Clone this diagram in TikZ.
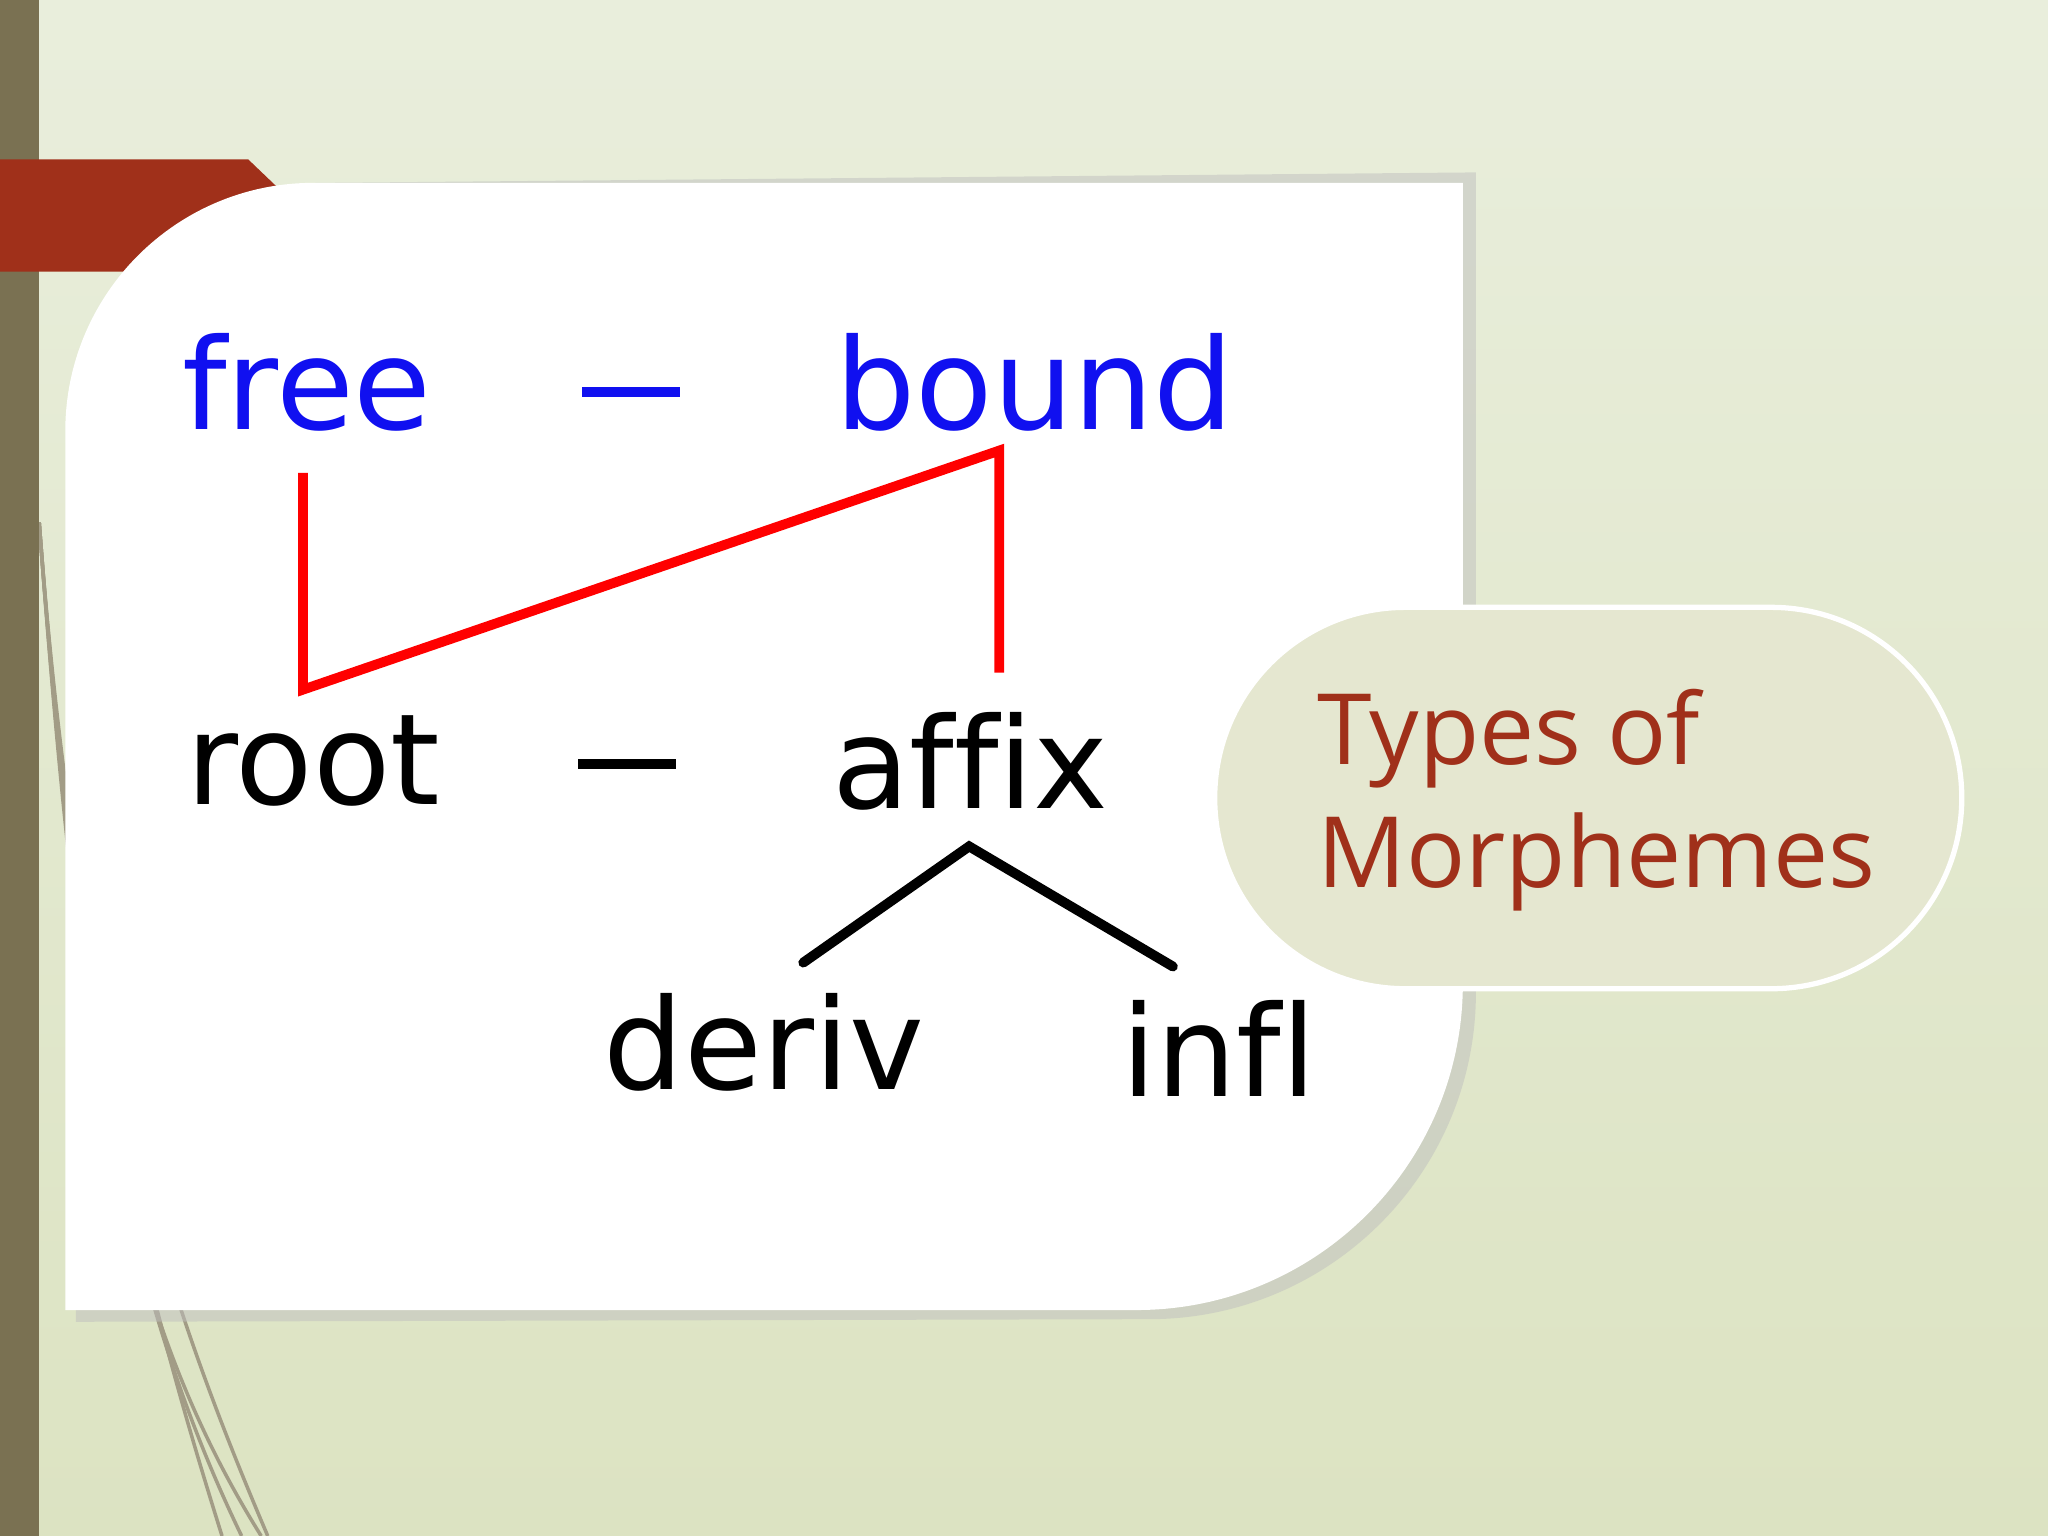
\documentclass[tikz,border=0pt]{standalone}
\usepackage{fontspec}
\setmainfont{DejaVu Sans}[Ligatures=NoCommon]
\newfontfamily\titlefont{Open Sans}
\definecolor{bgA}{HTML}{E9EEDC}
\definecolor{bgB}{HTML}{DCE3C2}
\definecolor{olive}{HTML}{7A7152}
\definecolor{rust}{HTML}{A0301A}
\definecolor{pill}{HTML}{E5E7D0}
\definecolor{wblue}{HTML}{1010F0}
\tikzset{
  wordb/.style={font=\fontsize{36}{44}\selectfont, text=wblue, inner sep=0pt},
  wordk/.style={font=\fontsize{36}{44}\selectfont, text=black, inner sep=0pt},
  dashb/.style={fill=wblue, minimum width=0.98cm, minimum height=0.1cm, inner sep=0pt},
  dashk/.style={fill=black, minimum width=0.98cm, minimum height=0.1cm, inner sep=0pt},
  redline/.style={draw=red, line width=2.8pt},
  blkline/.style={draw=black, line width=2.8pt, line cap=round},
}
\begin{document}
\begin{tikzpicture}[x=0.01306cm,y=-0.01306cm]
\useasboundingbox (0,0) rectangle (1568,1176);
\shade[top color=bgA, bottom color=bgB] (0,0) rectangle (1568,1176);
% grass lines
\foreach \a/\b in {90/200,100/185,115/170,130/205}
  \draw[olive!70, line width=1pt] (30,400) .. controls (60,800) and (\a,1000) .. (\b,1176);
\fill[olive] (0,0) rectangle (30,1176);
\fill[rust] (0,122) -- (190,122) -- (235,165) -- (200,208) -- (0,208) -- cycle;
% card shadow
\fill[black!25, opacity=0.5] (58,1012) -- (58,330) arc[start angle=180,end angle=270,radius=190] -- (1130,132) -- (1130,760) arc[start angle=0,end angle=90,radius=250] -- cycle;
% card
\fill[white] (50,1003) -- (50,330) arc[start angle=180,end angle=270,radius=190] -- (1120,140) -- (1120,753) arc[start angle=0,end angle=90,radius=250] -- cycle;
% pill
\filldraw[fill=pill, draw=white, line width=1.5pt] (1076,465) -- (1356,465) arc[start angle=-90,end angle=90,radius=146] -- (1076,757) arc[start angle=90,end angle=270,radius=146] -- cycle;
\node[anchor=west, text=rust, font=\titlefont\fontsize{28}{35}\selectfont, align=left, inner sep=0pt] (title) at (1008,613) {Types of\\Morphemes};
% words
\node[wordb] (free) at (235,293) {free};
\node[dashb] (d1) at (483,300) {};
\node[wordb] (bound) at (792,293) {bound};
\node[wordk] (root) at (240,583) {root};
\node[dashk] (d2) at (480,585) {};
\node[wordk] (affix) at (743,583) {affix};
\node[wordk] (deriv) at (585,798) {deriv};
\node[wordk] (infl) at (933,803) {infl};
% connectors
\coordinate (fb) at (232,362);
\coordinate (rt) at (232,528);
\coordinate (bb) at (765,345);
\coordinate (at) at (765,515);
\draw[redline, line join=miter] (fb) -- (rt) -- (bb) -- (at);
\coordinate (ax) at (742,648);
\coordinate (dv) at (615,737);
\coordinate (in) at (898,740);
\draw[blkline] (dv) -- (ax) -- (in);
\end{tikzpicture}
\end{document}
